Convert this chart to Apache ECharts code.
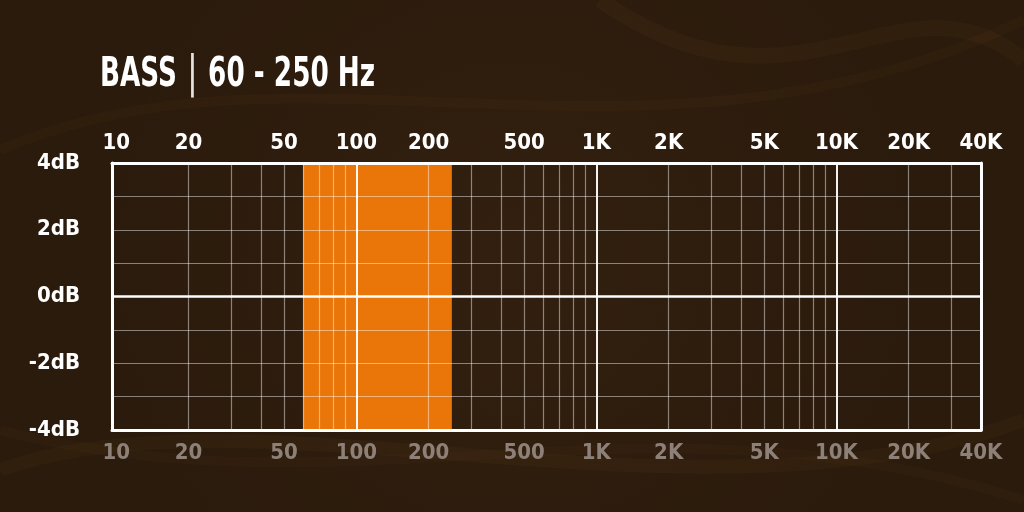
<!DOCTYPE html>
<html>
<head>
<meta charset="utf-8">
<script src="https://cdn.jsdelivr.net/npm/echarts@6/dist/echarts.min.js"></script>
<style>
html,body{margin:0;padding:0;background:#2e1d0e;}
#c{width:1024px;height:512px;}
</style>
</head>
<body>
<div id="c"></div>
<script>
// ---- data ----
const titleMain = 'BASS';
const titleRange = '60 - 250 Hz';
const freqMin = 9.6;
const freqMax = 40000;
const bandStart = 60;
const bandEnd = 250;
const freqLabelValues = [10, 20, 50, 100, 200, 500, 1000, 2000, 5000, 10000, 20000, 40000];
const freqLabelTexts = ['10', '20', '50', '100', '200', '500', '1K', '2K', '5K', '10K', '20K', '40K'];
const minorFreqLines = [20, 30, 40, 50, 60, 70, 80, 90, 200, 300, 400, 500, 600, 700, 800, 900,
  2000, 3000, 4000, 5000, 6000, 7000, 8000, 9000, 20000, 30000];
const majorFreqLines = [100, 1000, 10000];
const dbMin = -4;
const dbMax = 4;
const dbLabelValues = [-4, -2, 0, 2, 4];
const minorDbLines = [-3, -2, -1, 1, 2, 3];
const majorDbLines = [0];

const FONT = '"DejaVu Sans Condensed","Liberation Sans Narrow",sans-serif';

function fmtFreq(v) {
  const i = freqLabelValues.findIndex(x => Math.abs(x - v) / x < 1e-6);
  return i >= 0 ? freqLabelTexts[i] : '';
}

const chart = echarts.init(document.getElementById('c'), null, {renderer: 'canvas'});

const xBase = {
  type: 'log', logBase: 10, min: freqMin, max: freqMax,
  z: 10,
  axisLine: {show: true, onZero: false, lineStyle: {color: '#ffffff', width: 3}},
  axisTick: {show: false, customValues: freqLabelValues},
  splitLine: {show: false},
  minorSplitLine: {show: false}
};

// decorative background waves (texture only)
const waveStyle = (a, w) => ({stroke: 'rgba(150,95,35,' + a + ')', lineWidth: w, fill: null});
const waves = [
  {type: 'bezierCurve', shape: {x1: 0, y1: 150, x2: 1024, y2: 20, cpx1: 300, cpy1: 20, cpx2: 650, cpy2: 200}, style: waveStyle(0.05, 10)},
  {type: 'bezierCurve', shape: {x1: 600, y1: 0, x2: 1024, y2: 60, cpx1: 800, cpy1: 140, cpx2: 900, cpy2: -40}, style: waveStyle(0.06, 16)},
  {type: 'bezierCurve', shape: {x1: 0, y1: 470, x2: 1024, y2: 420, cpx1: 250, cpy1: 380, cpx2: 700, cpy2: 540}, style: waveStyle(0.06, 14)},
  {type: 'bezierCurve', shape: {x1: 0, y1: 430, x2: 1024, y2: 500, cpx1: 350, cpy1: 520, cpx2: 650, cpy2: 380}, style: waveStyle(0.045, 10)}
].map(g => Object.assign(g, {z: -10, silent: true}));

const option = {
  backgroundColor: {
    type: 'radial', x: 0.5, y: 0.5, r: 0.8,
    colorStops: [{offset: 0, color: '#321f0f'}, {offset: 1, color: '#2b1b0c'}]
  },
  animation: false,
  graphic: waves.concat([
    {
      type: 'text', x: 100, y: 54, scaleX: 0.73, z: 20,
      style: {
        text: '{a|' + titleMain + '}{p| | }{a|' + titleRange + '}',
        rich: {
          a: {fill: '#ffffff', fontSize: 40, fontWeight: 'bold', fontFamily: FONT},
          p: {fill: '#e8e2dc', fontSize: 44, fontWeight: 'normal', fontFamily: '"DejaVu Sans ExtraLight","DejaVu Sans",sans-serif'}
        }
      }
    }
  ]),
  grid: {left: 112, right: 43, top: 163, bottom: 82, show: false},
  xAxis: [
    Object.assign({}, xBase, {
      position: 'bottom',
      axisLabel: {
        customValues: freqLabelValues, formatter: fmtFreq,
        color: '#8c8078', fontSize: 22, fontWeight: 'bold', fontFamily: FONT, margin: 12
      }
    }),
    Object.assign({}, xBase, {
      position: 'top',
      axisLabel: {
        customValues: freqLabelValues, formatter: fmtFreq,
        color: '#ffffff', fontSize: 22, fontWeight: 'bold', fontFamily: FONT, margin: 9
      }
    })
  ],
  yAxis: [
    {
      type: 'value', min: dbMin, max: dbMax, position: 'left', z: 10,
      axisLine: {show: true, onZero: false, lineStyle: {color: '#ffffff', width: 3}},
      axisTick: {show: false},
      splitLine: {show: false},
      axisLabel: {
        customValues: dbLabelValues,
        formatter: v => v + 'dB',
        color: '#ffffff', fontSize: 22, fontWeight: 'bold', fontFamily: FONT, margin: 32
      }
    },
    {
      type: 'value', min: dbMin, max: dbMax, position: 'right', z: 10,
      axisLine: {show: true, onZero: false, lineStyle: {color: '#ffffff', width: 3}},
      axisTick: {show: false}, splitLine: {show: false}, axisLabel: {show: false}
    }
  ],
  series: [
    {
      type: 'line', xAxisIndex: 0, yAxisIndex: 0, data: [], symbol: 'none', silent: true,
      z: 1,
      markArea: {
        silent: true,
        itemStyle: {color: '#ea7508', opacity: 1},
        data: [[{xAxis: bandStart, yAxis: dbMin}, {xAxis: bandEnd, yAxis: dbMax}]]
      }
    },
    {
      type: 'line', xAxisIndex: 0, yAxisIndex: 0, data: [], symbol: 'none', silent: true,
      z: 3,
      markLine: {
        silent: true, symbol: ['none', 'none'], label: {show: false},
        data: [].concat(
          minorFreqLines.map(v => ({xAxis: v, lineStyle: {color: 'rgba(255,255,255,0.45)', width: 1.2, type: 'solid'}})),
          majorFreqLines.map(v => ({xAxis: v, lineStyle: {color: 'rgba(255,255,255,0.95)', width: 2, type: 'solid'}})),
          minorDbLines.map(v => ({yAxis: v, lineStyle: {color: 'rgba(255,255,255,0.45)', width: 1.2, type: 'solid'}})),
          majorDbLines.map(v => ({yAxis: v, lineStyle: {color: '#ffffff', width: 2.5, type: 'solid'}}))
        )
      }
    }
  ]
};
chart.setOption(option);
</script>
</body>
</html>
